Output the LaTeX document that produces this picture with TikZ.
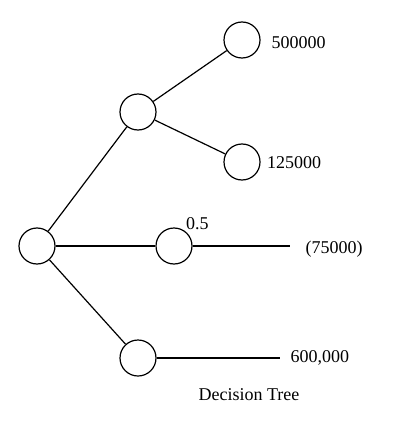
\documentclass[tikz,border=0pt]{standalone}
\usepackage{fontspec}
\setmainfont{Liberation Serif}
\usetikzlibrary{positioning}

\begin{document}
\begin{tikzpicture}[x=1pt,y=-1pt,line width=1.2pt,
  chance/.style={circle,draw,minimum size=36pt,inner sep=0pt},
  val/.style={anchor=base west,inner sep=0pt,font=\fontsize{18}{20}\selectfont}]
\useasboundingbox (0,0) rectangle (400,425);
\foreach \n/\x/\y in {root/37/246,up/138/112,top/242/40,mid/242/162,half/174/246,low/138/358}
  {\node[chance] (\n) at (\x,\y) {};}
\coordinate (endhalf) at (290,246);
\coordinate (endlow) at (280,358);
\draw (root)--(up);
\draw (up)--(top);
\draw (up)--(mid);
\draw (root)--(half);
\draw (half)--(endhalf);
\draw (root)--(low);
\draw (low)--(endlow);
\node[val] (vtop) at (271,48.3){500000};
\node[val] (vmid) at (266.5,168){125000};
\node[val] (vp) at (185.5,229){0.5};
\node[val] (vhalf) at (305,253){(75000)};
\node[val] (vlow) at (290,362.7){600,000};
\node[val] (cap) at (198,400){Decision Tree};
\end{tikzpicture}
\end{document}
